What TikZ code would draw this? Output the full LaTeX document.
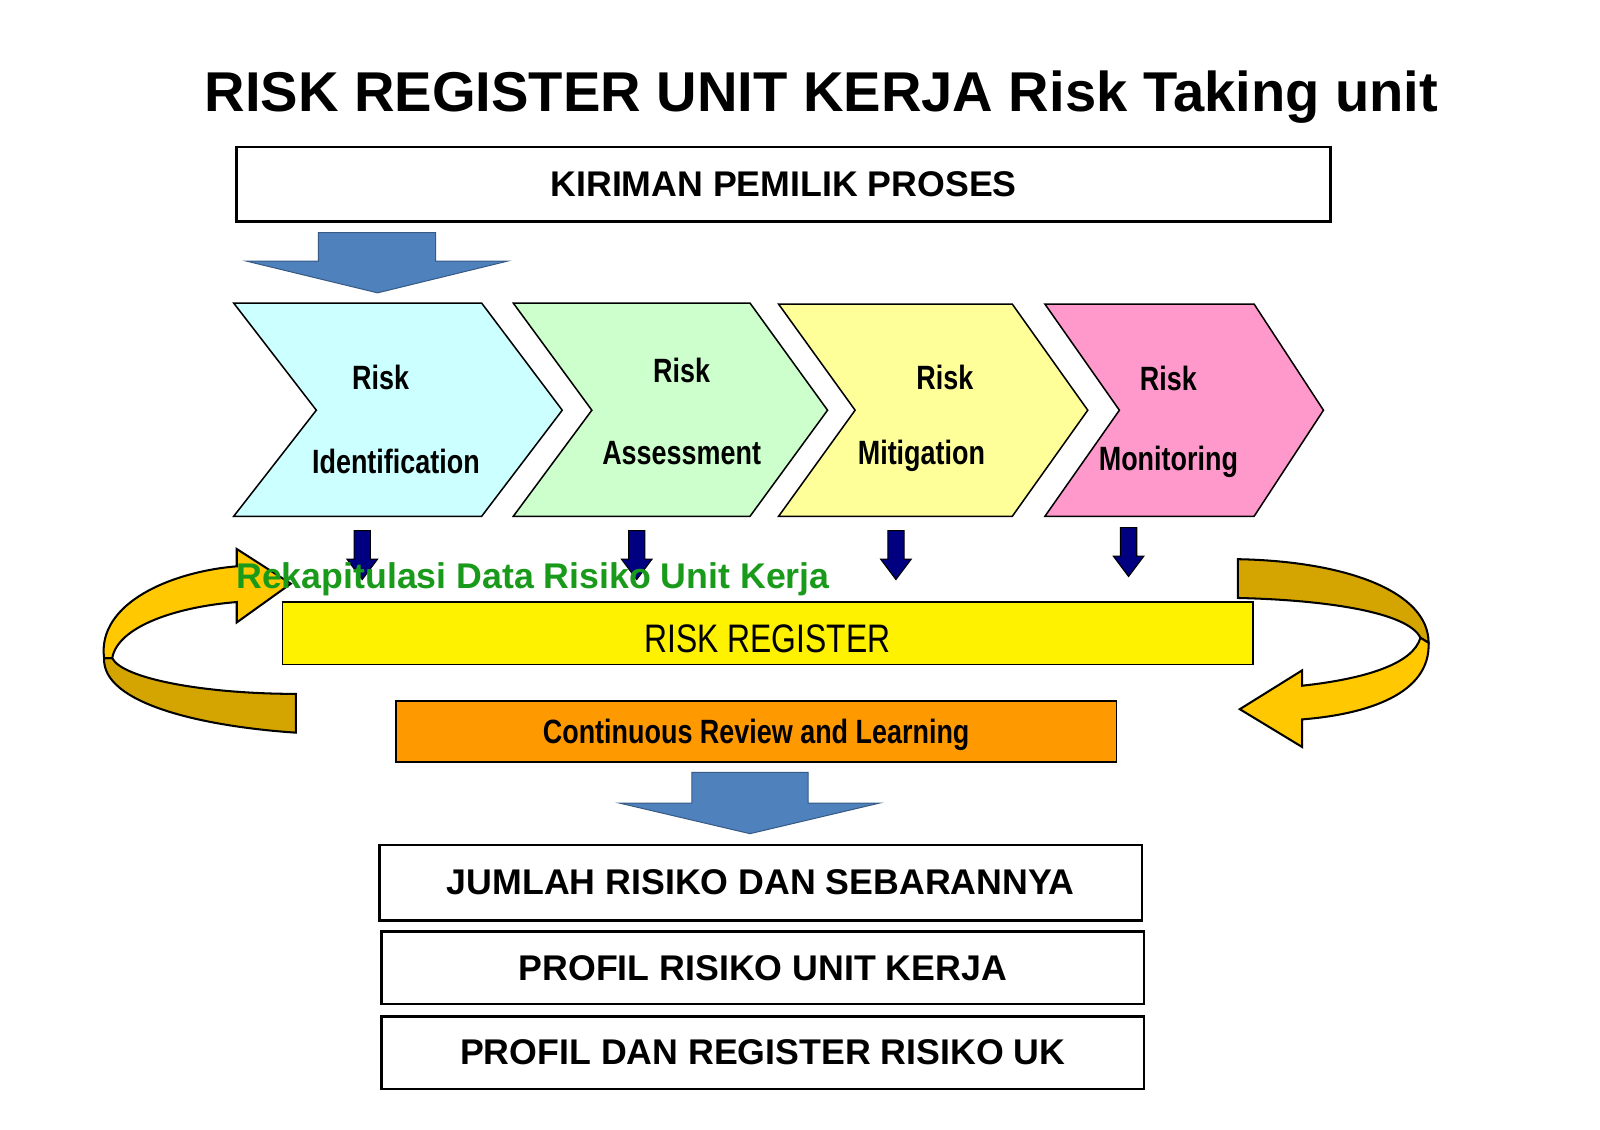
\documentclass[tikz,border=0pt]{standalone}
\usepackage{fontspec}
\setmainfont{Liberation Sans}
\definecolor{arrblue}{RGB}{79,129,189}
\definecolor{curvlight}{RGB}{255,200,0}
\definecolor{curvdark}{RGB}{212,165,0}
\begin{document}
\begin{tikzpicture}[x=1pt,y=-1pt,
  wbox/.style={draw,line width=2.5pt,fill=white},
  chev/.style={draw,line width=1.5pt},
  ctext/.style={font=\bfseries\fontsize{33}{37}\selectfont,xscale=0.8,align=center},
  btext/.style={font=\bfseries\fontsize{35}{40}\selectfont},
  bigarrow/.style={draw=arrblue!70!black,fill=arrblue,line width=1pt},
  smallarrow/.style={draw=black,fill=blue!50!black,line width=1pt},
  curvA/.style={draw,line width=2pt,fill=curvlight},
  curvB/.style={draw,line width=2pt,fill=curvdark}]
\useasboundingbox (0,0) rectangle (1568,1107);
\node (title) at (805,95) {\bfseries\fontsize{55}{60}\selectfont RISK REGISTER UNIT KERJA Risk Taking unit};
\node[wbox,minimum width=1072,minimum height=73] (kir) at (768,180.5) {};
\node[btext] at (kir) {KIRIMAN PEMILIK PROSES};
\filldraw[bigarrow] (312,228) -- (427,228) -- (427,256) -- (497,256) -- (370,287) -- (242,256) -- (312,256) -- cycle;
\filldraw[chev,fill={rgb,255:red,204;green,255;blue,255}] (229,297) -- (472,297) -- (551,402) -- (472,506) -- (229,506) -- (310,402) -- cycle;
\filldraw[chev,fill={rgb,255:red,204;green,255;blue,204}] (503,297) -- (735,297) -- (811,402) -- (735,506) -- (503,506) -- (580,402) -- cycle;
\filldraw[chev,fill={rgb,255:red,255;green,255;blue,153}] (763,298) -- (992,298) -- (1066,402) -- (992,506) -- (763,506) -- (838,402) -- cycle;
\filldraw[chev,fill={rgb,255:red,255;green,153;blue,204}] (1024,298) -- (1229,298) -- (1297,402) -- (1229,506) -- (1024,506) -- (1097,402) -- cycle;
\node[ctext] (c1a) at (373,370) {Risk};
\node[ctext] (c1b) at (388,452) {Identification};
\node[ctext] (c2a) at (668,363) {Risk};
\node[ctext] (c2b) at (668,444) {Assessment};
\node[ctext] (c3a) at (926,370) {Risk};
\node[ctext] (c3b) at (903,447) {Mitigation};
\node[ctext] (c4a) at (1145,371) {Risk};
\node[ctext] (c4b) at (1145,453) {Monitoring};
\foreach \x/\t in {355/520,624/520,878/520,1106/517}{
  \filldraw[smallarrow] (\x-8,\t) -- (\x+8,\t) -- (\x+8,\t+28) -- (\x+15,\t+28) -- (\x,\t+48) -- (\x-15,\t+28) -- (\x-8,\t+28) -- cycle;}
% curved arrows
\filldraw[curvB] (102,645) .. controls (100,690) and (200,712) .. (290,718) -- (290,680) .. controls (200,680) and (120,665) .. (110,645) -- cycle;
\filldraw[curvA] (102,645) .. controls (95,590) and (170,560) .. (232,555) -- (232,538) -- (285,572) -- (232,610) -- (232,590) .. controls (170,595) and (115,615) .. (110,645) -- cycle;
\filldraw[curvB] (1213,548) .. controls (1320,550) and (1400,580) .. (1400,630) -- (1392,625) .. controls (1380,600) and (1300,588) .. (1213,586) -- cycle;
\filldraw[curvA] (1400,630) .. controls (1402,680) and (1340,700) .. (1276,705) -- (1276,732) -- (1215,695) -- (1276,657) -- (1276,672) .. controls (1340,665) and (1385,650) .. (1392,625) -- cycle;
\node[draw,line width=1.5pt,fill=yellow,minimum width=951,minimum height=61] (rr) at (752.5,620.5) {};
\node[font=\fontsize{39}{43}\selectfont,xscale=0.8] at (752,626) {RISK REGISTER};
\node[anchor=west,text={rgb,255:red,26;green,154;blue,26},font=\bfseries\fontsize{35}{40}\selectfont] (rek) at (228,568) {Rekapitulasi Data Risiko Unit Kerja};
\node[draw,line width=1.5pt,fill={rgb,255:red,255;green,153;blue,0},minimum width=706,minimum height=60] (crl) at (741,717) {};
\node[ctext] at (741,720) {Continuous Review and Learning};
\filldraw[bigarrow] (678,757) -- (792,757) -- (792,787) -- (862,787) -- (735,817) -- (607,787) -- (678,787) -- cycle;
\node[wbox,minimum width=747,minimum height=74] (b1) at (745.5,865) {};
\node[btext] at (b1) {JUMLAH RISIKO DAN SEBARANNYA};
\node[wbox,minimum width=747,minimum height=71] (b2) at (747.5,948.5) {};
\node[btext] at (b2) {PROFIL RISIKO UNIT KERJA};
\node[wbox,minimum width=747,minimum height=71] (b3) at (747.5,1031.5) {};
\node[btext] at (b3) {PROFIL DAN REGISTER RISIKO UK};
\end{tikzpicture}
\end{document}
